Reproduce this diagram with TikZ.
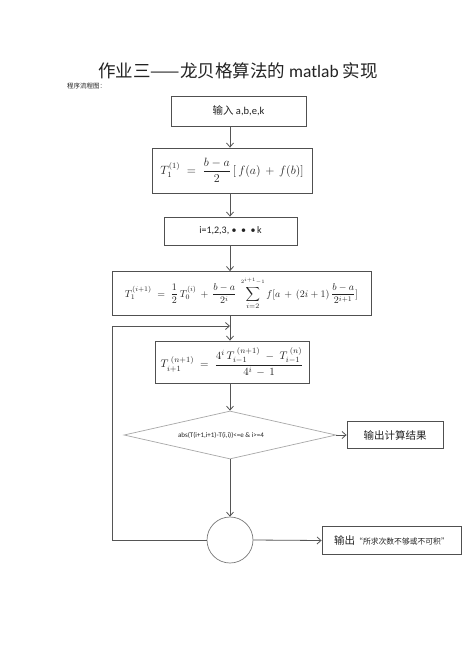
\documentclass[tikz,border=0pt]{standalone}
\usepackage{amsmath}
\usepackage{fontspec}
\setmainfont{Carlito}
\newfontfamily\cjk{Noto Sans CJK SC}
\usetikzlibrary{shapes.geometric,arrows.meta}
\definecolor{boxgray}{HTML}{505050}
\definecolor{linegray}{HTML}{555555}
\definecolor{diagray}{HTML}{A8A8A8}
\definecolor{circgray}{HTML}{7A7A7A}
\definecolor{txt}{HTML}{222222}
\begin{document}
\begin{tikzpicture}[x=1pt,y=-1pt,
  box/.style={draw=boxgray, line width=0.8pt, inner sep=0pt, text=txt},
  arr/.style={draw=linegray, line width=0.8pt, -{Straight Barb[length=4pt,width=7pt]}},
]
\fill[white] (0,0) rectangle (474,670);
\useasboundingbox (0,0) rectangle (474,670);

\node[text=txt, inner sep=0pt] (title) at (238,71)
  {\fontsize{17.5}{20}\selectfont{\cjk 作业三——龙贝格算法的} matlab {\cjk 实现}};
\node[text=txt, anchor=west, inner sep=0pt] (sub) at (67,86)
  {\cjk\fontsize{6.5}{8}\selectfont 程序流程图：};

\coordinate (cx) at (230,0);

\node[box, minimum width=135pt, minimum height=30pt] (b1) at (238.5,111)
  {\fontsize{10.5}{12}\selectfont{\cjk 输入} a,b,e,k};
\node[box, minimum width=160pt, minimum height=45pt] (b2) at (232,170.5)
  {\fontsize{11.5}{14}\selectfont $\displaystyle T_1^{(1)} \;=\; \frac{b-a}{2}\,[\,f(a) \,+\, f(b)]$};
\node[box, minimum width=133pt, minimum height=28pt] (b3) at (230.5,231)
  {\fontsize{10}{12}\selectfont i=1,2,3,\ \textbullet\ \ \textbullet\ \ \textbullet\,k};
\node[box, minimum width=259pt, minimum height=44pt] (b4) at (241.5,293.5)
  {\fontsize{10.2}{12}\selectfont $\displaystyle T_1^{(i+1)} \;=\; \frac12\,T_0^{(i)} \,+\, \frac{b-a}{2^i}\;\sum_{i=2}^{\raisebox{1.2pt}{$\scriptscriptstyle 2^{i+1}-1$}} f[a \,+\, (2i+1)\,\frac{b-a}{2^{i+1}}]$};
\node[box, minimum width=154pt, minimum height=42pt] (b5) at (232,362)
  {\fontsize{11}{13}\selectfont $\displaystyle T_{i+1}^{\;(n+1)} \;=\; \frac{4^i\,T_{i-1}^{\;(n+1)} \;-\; T_{i-1}^{\;(n)}}{4^i\,-\,1}$};
\node[diamond, draw=diagray, line width=0.7pt, minimum width=212pt, minimum height=48pt, aspect=4.4, inner sep=0pt, text=txt] (d) at (230,435)
  {\fontsize{7}{8}\selectfont abs(T(i+1,i+1)-T(i,i))<=e \& i>=4\hspace*{18pt}};
\node[box, minimum width=96pt, minimum height=27pt] (b6) at (395,435)
  {\cjk\fontsize{10.5}{12}\selectfont 输出计算结果};
\node[circle, draw=circgray, line width=0.7pt, minimum size=46pt, inner sep=0pt] (c) at (230,540) {};
\node[box, minimum width=139pt, minimum height=28pt] (b7) at (391.5,540.5)
  {\cjk{\fontsize{10.5}{12}\selectfont 输出}{\fontsize{7.8}{10}\selectfont “所求次数不够或不可积”}};

\coordinate (lp) at (112,326);

\draw[arr] (b1.south -| cx) -- (b2.north -| cx);
\draw[arr] (b2.south -| cx) -- (b3.north -| cx);
\draw[arr] (b3.south -| cx) -- (b4.north -| cx);
\draw[arr] (b4.south -| cx) -- (b5.north -| cx);
\draw[arr] (b5.south -| cx) -- (d.north);
\draw[arr] (d.east) -- (b6.west);
\draw[arr] (d.south) -- (c.north);
\draw[arr] (c.east) -- (b7.west);
\draw[arr] (c.west) -- (c.west -| lp) -- (lp) -- (lp -| cx);
\end{tikzpicture}
\end{document}
